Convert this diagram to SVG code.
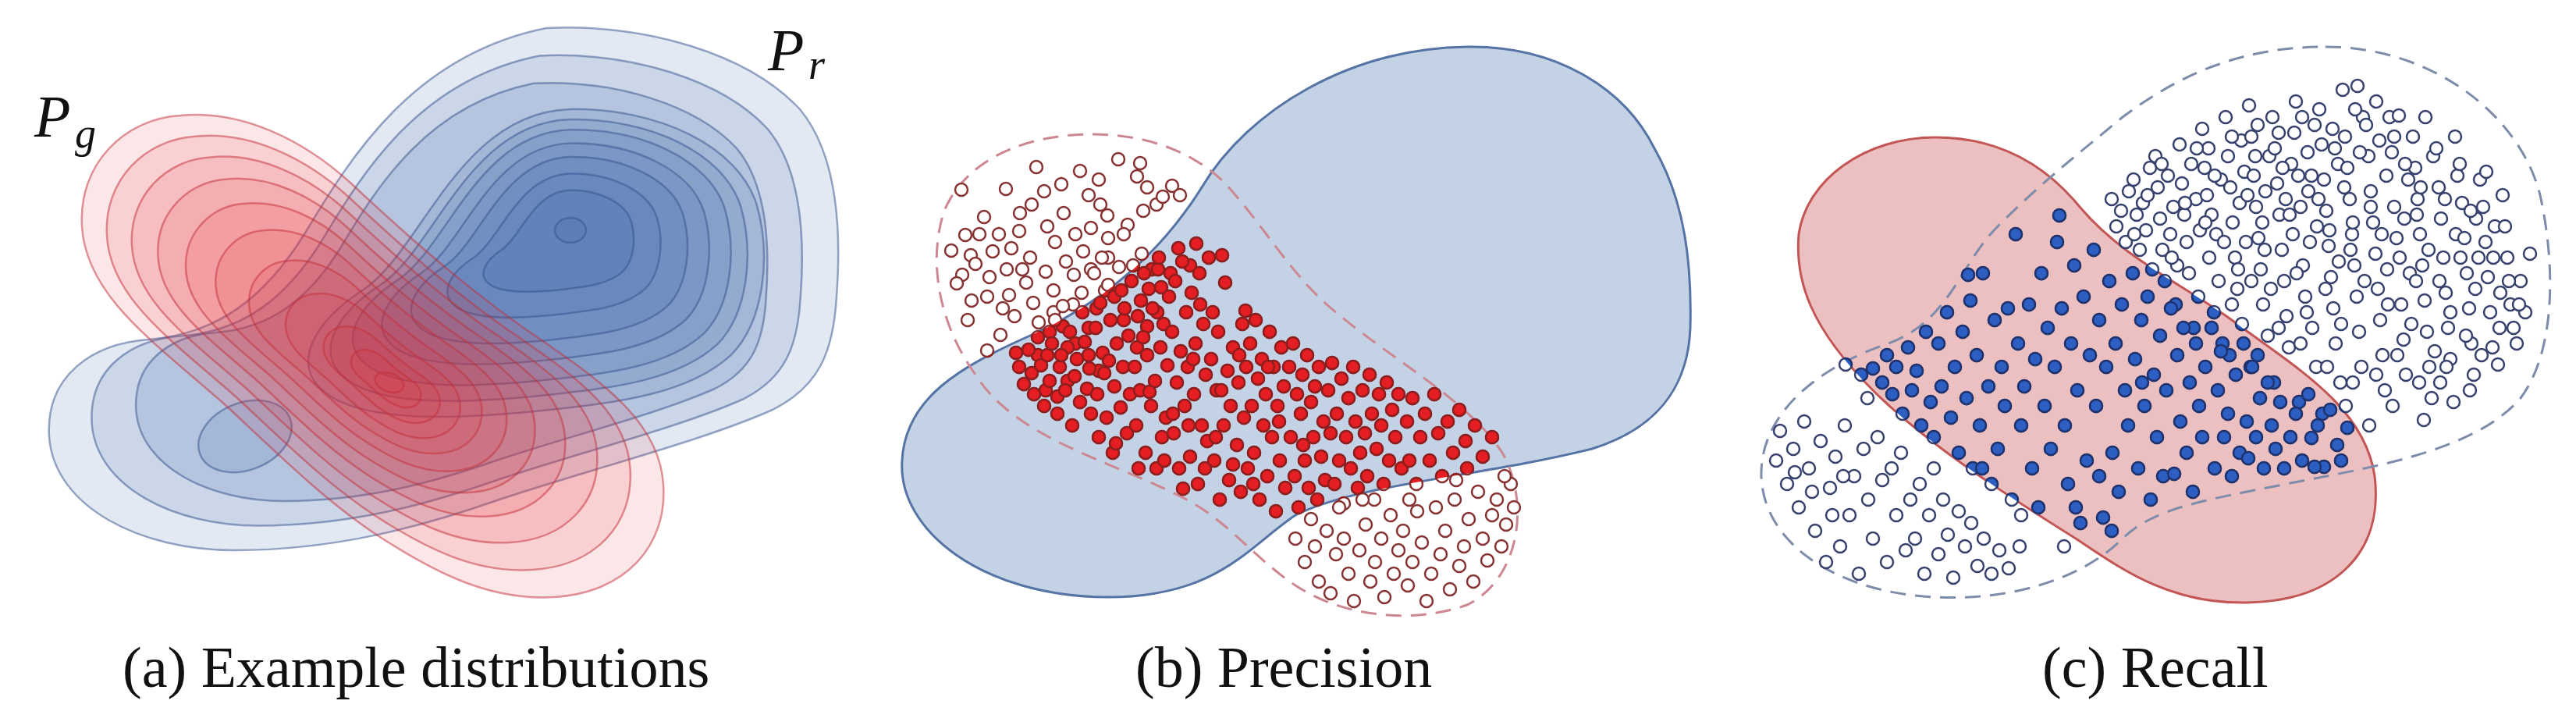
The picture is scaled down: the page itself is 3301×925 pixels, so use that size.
<svg xmlns="http://www.w3.org/2000/svg" xmlns:xlink="http://www.w3.org/1999/xlink" width="3301" height="925" viewBox="0 0 3301 925">
<style>
.bl{fill:rgb(60,100,170);fill-opacity:.14;stroke:rgb(50,80,140);stroke-opacity:.5;stroke-width:2.5}
.rd{fill:rgb(225,45,55);fill-opacity:.115;stroke:rgb(195,45,55);stroke-opacity:.5;stroke-width:2.5}
.lbl{font-family:"Liberation Serif","Times New Roman",serif;font-style:italic;fill:#111}
.cap{font-family:"Liberation Serif","Times New Roman",serif;font-size:74px;fill:#111}
.blobB{fill:rgb(196,210,229);stroke:rgb(85,115,165);stroke-width:3}
.blobC{fill:rgb(236,192,192);stroke:rgb(195,85,85);stroke-width:3}
.dashR{fill:none;stroke:rgb(205,135,145);stroke-width:3;stroke-dasharray:20 12}
.dashB{fill:none;stroke:rgb(125,140,170);stroke-width:3;stroke-dasharray:20 12}
.hollowR{fill:#fff;stroke:rgb(135,50,50);stroke-width:2.5}
.fillR{fill:rgb(228,30,35);stroke:rgb(140,30,30);stroke-width:2.5}
.hollowB{fill:#fff;stroke:rgb(55,65,110);stroke-width:2.5}
.fillB{fill:rgb(45,95,195);stroke:rgb(30,50,110);stroke-width:2.5}
</style>
<defs>
<path id="redOut" vector-effect="non-scaling-stroke" d="M231,148 C310,140 390,180 450,235 C530,310 610,380 700,440 C780,495 845,545 850,620 C856,700 800,760 710,765 C630,770 560,735 490,690 C420,645 360,585 290,520 C200,440 110,380 105,290 C100,210 160,152 231,148 Z"/>
<path id="blueOut" vector-effect="non-scaling-stroke" d="M700,36 C830,30 960,70 1025,140 C1075,200 1078,300 1072,380 C1068,450 1050,495 990,525 C900,565 760,600 640,640 C540,675 430,705 300,705 C180,705 70,650 63,560 C58,480 120,440 190,435 C280,428 340,380 390,300 C450,200 530,70 700,36 Z"/>
<path id="bb" vector-effect="non-scaling-stroke" d="M730,130 C850,128 960,180 985,260 C1005,330 995,420 950,465 C890,520 790,530 700,540 C590,552 450,560 395,515 C350,478 380,420 450,375 C530,320 580,135 730,130 Z"/>
<path id="blobBp" d="M1880,60 C1990,58 2080,110 2120,190 C2160,260 2168,340 2166,420 C2163,500 2120,550 2040,575 C1900,610 1740,620 1660,660 C1600,700 1560,765 1420,765 C1260,765 1150,680 1156,590 C1160,510 1230,470 1320,430 C1420,385 1490,320 1540,240 C1600,140 1730,62 1880,60 Z"/>
<path id="blobCp" d="M2480,176 C2560,176 2620,210 2665,265 C2720,330 2790,360 2860,410 C2940,470 3030,520 3043,610 C3055,710 2990,770 2880,772 C2780,774 2720,730 2660,690 C2580,640 2470,570 2400,500 C2320,420 2300,360 2305,300 C2315,230 2390,176 2480,176 Z"/>
<clipPath id="clipB"><use href="#blobBp"/></clipPath>
<clipPath id="clipC"><use href="#blobCp"/></clipPath>
<g id="cloudB">
<circle cx="1433" cy="204" r="8"/><circle cx="1461" cy="209" r="8"/><circle cx="1328" cy="214" r="8"/><circle cx="1384" cy="219" r="8"/><circle cx="1289" cy="242" r="8"/><circle cx="1338" cy="245" r="8"/><circle cx="1360" cy="236" r="8"/><circle cx="1261" cy="278" r="8"/><circle cx="1307" cy="273" r="8"/><circle cx="1363" cy="273" r="8"/><circle cx="1419" cy="276" r="8"/><circle cx="1482" cy="262" r="8"/><circle cx="1237" cy="301" r="8"/><circle cx="1219" cy="321" r="8"/><circle cx="1244" cy="327" r="8"/><circle cx="1272" cy="322" r="8"/><circle cx="1296" cy="318" r="8"/><circle cx="1320" cy="330" r="8"/><circle cx="1352" cy="310" r="8"/><circle cx="1378" cy="300" r="8"/><circle cx="1398" cy="292" r="8"/><circle cx="1420" cy="305" r="8"/><circle cx="1445" cy="288" r="8"/><circle cx="1465" cy="270" r="8"/><circle cx="1233" cy="352" r="8"/><circle cx="1268" cy="355" r="8"/><circle cx="1290" cy="345" r="8"/><circle cx="1315" cy="362" r="8"/><circle cx="1340" cy="348" r="8"/><circle cx="1366" cy="335" r="8"/><circle cx="1388" cy="322" r="8"/><circle cx="1265" cy="380" r="8"/><circle cx="1293" cy="378" r="8"/><circle cx="1324" cy="388" r="8"/><circle cx="1350" cy="372" r="8"/><circle cx="1376" cy="352" r="8"/><circle cx="1331" cy="413" r="8"/><circle cx="1300" cy="405" r="8"/><circle cx="1282" cy="429" r="8"/><circle cx="1265" cy="449" r="8"/><circle cx="1240" cy="410" r="8"/><circle cx="1255" cy="300" r="8"/><circle cx="1232" cy="243" r="8"/><circle cx="1395" cy="250" r="8"/><circle cx="1410" cy="262" r="8"/><circle cx="1342" cy="290" r="8"/><circle cx="1280" cy="300" r="8"/><circle cx="1306" cy="296" r="8"/><circle cx="1470" cy="240" r="8"/><circle cx="1490" cy="252" r="8"/><circle cx="1502" cy="238" r="8"/><circle cx="1375" cy="390" r="8"/><circle cx="1350" cy="400" r="8"/><circle cx="1398" cy="345" r="8"/><circle cx="1420" cy="330" r="8"/><circle cx="1440" cy="300" r="8"/><circle cx="1310" cy="345" r="8"/><circle cx="1250" cy="338" r="8"/><circle cx="1285" cy="395" r="8"/><circle cx="1245" cy="385" r="8"/><circle cx="1226" cy="363" r="8"/><circle cx="1408" cy="230" r="8"/><circle cx="1322" cy="262" r="8"/><circle cx="1457" cy="226" r="8"/><circle cx="1512" cy="250" r="8"/>
<circle cx="1345" cy="425" r="8"/><circle cx="1362" cy="418" r="8"/><circle cx="1378" cy="440" r="8"/><circle cx="1395" cy="420" r="8"/><circle cx="1405" cy="395" r="8"/><circle cx="1416" cy="372" r="8"/><circle cx="1428" cy="380" r="8"/><circle cx="1440" cy="410" r="8"/><circle cx="1450" cy="360" r="8"/><circle cx="1462" cy="385" r="8"/><circle cx="1476" cy="345" r="8"/><circle cx="1488" cy="368" r="8"/><circle cx="1500" cy="350" r="8"/><circle cx="1510" cy="318" r="8"/><circle cx="1525" cy="340" r="8"/><circle cx="1533" cy="312" r="8"/><circle cx="1457" cy="445" r="8"/><circle cx="1470" cy="418" r="8"/><circle cx="1483" cy="400" r="8"/><circle cx="1395" cy="455" r="8"/><circle cx="1408" cy="475" r="8"/><circle cx="1355" cy="508" r="8"/><circle cx="1368" cy="488" r="8"/><circle cx="1330" cy="455" r="8"/><circle cx="1340" cy="500" r="8"/>
<circle cx="1306" cy="470" r="8"/><circle cx="1312" cy="492" r="8"/><circle cx="1318" cy="448" r="8"/><circle cx="1325" cy="505" r="8"/><circle cx="1330" cy="432" r="8"/><circle cx="1334" cy="468" r="8"/><circle cx="1338" cy="520" r="8"/><circle cx="1342" cy="455" r="8"/><circle cx="1345" cy="488" r="8"/><circle cx="1322" cy="478" r="8"/><circle cx="1348" cy="440" r="8"/><circle cx="1302" cy="452" r="8"/>
<circle cx="1352" cy="410" r="8"/><circle cx="1355" cy="530" r="8"/><circle cx="1358" cy="470" r="8"/><circle cx="1362" cy="392" r="8"/><circle cx="1365" cy="500" r="8"/><circle cx="1368" cy="445" r="8"/><circle cx="1371" cy="425" r="8"/><circle cx="1374" cy="545" r="8"/><circle cx="1377" cy="482" r="8"/><circle cx="1380" cy="460" r="8"/><circle cx="1384" cy="515" r="8"/><circle cx="1387" cy="400" r="8"/><circle cx="1390" cy="438" r="8"/><circle cx="1393" cy="498" r="8"/><circle cx="1396" cy="472" r="8"/><circle cx="1398" cy="530" r="8"/><circle cx="1360" cy="455" r="8"/><circle cx="1386" cy="375" r="8"/>
<circle cx="1402" cy="350" r="8"/><circle cx="1404" cy="420" r="8"/><circle cx="1406" cy="505" r="8"/><circle cx="1408" cy="560" r="8"/><circle cx="1410" cy="388" r="8"/><circle cx="1413" cy="452" r="8"/><circle cx="1415" cy="478" r="8"/><circle cx="1418" cy="535" r="8"/><circle cx="1420" cy="365" r="8"/><circle cx="1423" cy="410" r="8"/><circle cx="1426" cy="580" r="8"/><circle cx="1428" cy="495" r="8"/><circle cx="1431" cy="440" r="8"/><circle cx="1434" cy="342" r="8"/><circle cx="1436" cy="522" r="8"/><circle cx="1439" cy="470" r="8"/><circle cx="1441" cy="395" r="8"/><circle cx="1444" cy="555" r="8"/><circle cx="1446" cy="430" r="8"/><circle cx="1448" cy="505" r="8"/><circle cx="1412" cy="330" r="8"/><circle cx="1430" cy="568" r="8"/><circle cx="1437" cy="372" r="8"/><circle cx="1421" cy="462" r="8"/>
<circle cx="1452" cy="340" r="8"/><circle cx="1454" cy="470" r="8"/><circle cx="1456" cy="545" r="8"/><circle cx="1458" cy="405" r="8"/><circle cx="1461" cy="500" r="8"/><circle cx="1463" cy="325" r="8"/><circle cx="1465" cy="432" r="8"/><circle cx="1468" cy="580" r="8"/><circle cx="1470" cy="455" r="8"/><circle cx="1472" cy="370" r="8"/><circle cx="1475" cy="520" r="8"/><circle cx="1477" cy="395" r="8"/><circle cx="1480" cy="488" r="8"/><circle cx="1482" cy="600" r="8"/><circle cx="1484" cy="345" r="8"/><circle cx="1487" cy="445" r="8"/><circle cx="1489" cy="560" r="8"/><circle cx="1491" cy="415" r="8"/><circle cx="1494" cy="535" r="8"/><circle cx="1496" cy="468" r="8"/><circle cx="1498" cy="380" r="8"/><circle cx="1459" cy="600" r="8"/><circle cx="1473" cy="502" r="8"/><circle cx="1485" cy="330" r="8"/><circle cx="1492" cy="590" r="8"/><circle cx="1466" cy="350" r="8"/>
<circle cx="1502" cy="425" r="8"/><circle cx="1504" cy="555" r="8"/><circle cx="1506" cy="360" r="8"/><circle cx="1508" cy="490" r="8"/><circle cx="1511" cy="600" r="8"/><circle cx="1513" cy="450" r="8"/><circle cx="1515" cy="335" r="8"/><circle cx="1518" cy="520" r="8"/><circle cx="1520" cy="400" r="8"/><circle cx="1522" cy="470" r="8"/><circle cx="1525" cy="585" r="8"/><circle cx="1527" cy="375" r="8"/><circle cx="1530" cy="505" r="8"/><circle cx="1532" cy="440" r="8"/><circle cx="1535" cy="620" r="8"/><circle cx="1537" cy="350" r="8"/><circle cx="1540" cy="545" r="8"/><circle cx="1542" cy="415" r="8"/><circle cx="1545" cy="480" r="8"/><circle cx="1547" cy="565" r="8"/><circle cx="1549" cy="330" r="8"/><circle cx="1516" cy="626" r="8"/><circle cx="1529" cy="460" r="8"/><circle cx="1538" cy="390" r="8"/><circle cx="1544" cy="600" r="8"/><circle cx="1503" cy="530" r="8"/><circle cx="1523" cy="545" r="8"/>
<circle cx="1552" cy="460" r="8"/><circle cx="1554" cy="400" r="8"/><circle cx="1556" cy="590" r="8"/><circle cx="1559" cy="500" r="8"/><circle cx="1561" cy="425" r="8"/><circle cx="1563" cy="640" r="8"/><circle cx="1566" cy="327" r="8"/><circle cx="1570" cy="362" r="8"/><circle cx="1568" cy="545" r="8"/><circle cx="1573" cy="475" r="8"/><circle cx="1575" cy="615" r="8"/><circle cx="1577" cy="520" r="8"/><circle cx="1580" cy="445" r="8"/><circle cx="1585" cy="570" r="8"/><circle cx="1587" cy="490" r="8"/><circle cx="1590" cy="630" r="8"/><circle cx="1592" cy="415" r="8"/><circle cx="1594" cy="535" r="8"/><circle cx="1597" cy="470" r="8"/><circle cx="1599" cy="600" r="8"/><circle cx="1558" cy="560" r="8"/><circle cx="1588" cy="455" r="8"/><circle cx="1565" cy="500" r="8"/><circle cx="1580" cy="595" r="8"/><circle cx="1596" cy="398" r="8"/>
<circle cx="1602" cy="440" r="8"/><circle cx="1604" cy="520" r="8"/><circle cx="1607" cy="580" r="8"/><circle cx="1609" cy="410" r="8"/><circle cx="1612" cy="485" r="8"/><circle cx="1614" cy="640" r="8"/><circle cx="1617" cy="460" r="8"/><circle cx="1619" cy="545" r="8"/><circle cx="1622" cy="505" r="8"/><circle cx="1624" cy="610" r="8"/><circle cx="1627" cy="425" r="8"/><circle cx="1630" cy="560" r="8"/><circle cx="1632" cy="470" r="8"/><circle cx="1635" cy="655" r="8"/><circle cx="1637" cy="520" r="8"/><circle cx="1640" cy="590" r="8"/><circle cx="1642" cy="445" r="8"/><circle cx="1645" cy="495" r="8"/><circle cx="1647" cy="625" r="8"/><circle cx="1606" cy="620" r="8"/><circle cx="1625" cy="470" r="8"/><circle cx="1639" cy="540" r="8"/>
<circle cx="1652" cy="470" r="8"/><circle cx="1654" cy="560" r="8"/><circle cx="1657" cy="440" r="8"/><circle cx="1659" cy="610" r="8"/><circle cx="1662" cy="505" r="8"/><circle cx="1664" cy="650" r="8"/><circle cx="1667" cy="530" r="8"/><circle cx="1669" cy="480" r="8"/><circle cx="1672" cy="590" r="8"/><circle cx="1675" cy="455" r="8"/><circle cx="1677" cy="625" r="8"/><circle cx="1680" cy="515" r="8"/><circle cx="1683" cy="560" r="8"/><circle cx="1685" cy="495" r="8"/><circle cx="1688" cy="640" r="8"/><circle cx="1690" cy="470" r="8"/><circle cx="1693" cy="585" r="8"/><circle cx="1696" cy="540" r="8"/><circle cx="1698" cy="615" r="8"/><circle cx="1670" cy="570" r="8"/>
<circle cx="1702" cy="500" r="8"/><circle cx="1705" cy="555" r="8"/><circle cx="1707" cy="465" r="8"/><circle cx="1710" cy="620" r="8"/><circle cx="1713" cy="530" r="8"/><circle cx="1716" cy="590" r="8"/><circle cx="1719" cy="485" r="8"/><circle cx="1722" cy="645" r="8"/><circle cx="1725" cy="560" r="8"/><circle cx="1728" cy="510" r="8"/><circle cx="1731" cy="600" r="8"/><circle cx="1734" cy="470" r="8"/><circle cx="1737" cy="540" r="8"/><circle cx="1740" cy="625" r="8"/><circle cx="1743" cy="580" r="8"/><circle cx="1746" cy="500" r="8"/><circle cx="1749" cy="555" r="8"/>
<circle cx="1752" cy="610" r="8"/><circle cx="1755" cy="480" r="8"/><circle cx="1758" cy="530" r="8"/><circle cx="1761" cy="640" r="8"/><circle cx="1764" cy="575" r="8"/><circle cx="1767" cy="505" r="8"/><circle cx="1770" cy="545" r="8"/><circle cx="1773" cy="620" r="8"/><circle cx="1777" cy="490" r="8"/><circle cx="1780" cy="590" r="8"/><circle cx="1784" cy="525" r="8"/><circle cx="1788" cy="560" r="8"/><circle cx="1792" cy="505" r="8"/><circle cx="1796" cy="600" r="8"/>
<circle cx="1803" cy="540" r="8"/><circle cx="1806" cy="590" r="8"/><circle cx="1810" cy="510" r="8"/><circle cx="1815" cy="620" r="8"/><circle cx="1820" cy="560" r="8"/><circle cx="1826" cy="530" r="8"/><circle cx="1832" cy="590" r="8"/><circle cx="1838" cy="505" r="8"/><circle cx="1843" cy="555" r="8"/><circle cx="1848" cy="610" r="8"/>
<circle cx="1855" cy="540" r="8"/><circle cx="1862" cy="580" r="8"/><circle cx="1870" cy="525" r="8"/><circle cx="1878" cy="565" r="8"/><circle cx="1890" cy="545" r="8"/><circle cx="1900" cy="585" r="8"/><circle cx="1912" cy="560" r="8"/><circle cx="1880" cy="600" r="8"/>
<circle cx="1660" cy="690" r="8"/><circle cx="1672" cy="720" r="8"/><circle cx="1685" cy="700" r="8"/><circle cx="1690" cy="745" r="8"/><circle cx="1700" cy="680" r="8"/><circle cx="1705" cy="760" r="8"/><circle cx="1712" cy="710" r="8"/><circle cx="1722" cy="690" r="8"/><circle cx="1728" cy="735" r="8"/><circle cx="1735" cy="770" r="8"/><circle cx="1742" cy="705" r="8"/><circle cx="1750" cy="672" r="8"/><circle cx="1756" cy="745" r="8"/><circle cx="1762" cy="720" r="8"/><circle cx="1770" cy="690" r="8"/><circle cx="1774" cy="765" r="8"/><circle cx="1782" cy="660" r="8"/><circle cx="1786" cy="735" r="8"/><circle cx="1792" cy="705" r="8"/><circle cx="1798" cy="680" r="8"/><circle cx="1804" cy="750" r="8"/><circle cx="1810" cy="720" r="8"/><circle cx="1816" cy="655" r="8"/><circle cx="1822" cy="695" r="8"/><circle cx="1828" cy="770" r="8"/><circle cx="1834" cy="735" r="8"/><circle cx="1840" cy="650" r="8"/><circle cx="1846" cy="710" r="8"/><circle cx="1852" cy="680" r="8"/><circle cx="1858" cy="755" r="8"/><circle cx="1864" cy="640" r="8"/><circle cx="1870" cy="725" r="8"/><circle cx="1876" cy="700" r="8"/><circle cx="1882" cy="665" r="8"/><circle cx="1888" cy="745" r="8"/><circle cx="1894" cy="630" r="8"/><circle cx="1900" cy="690" r="8"/><circle cx="1906" cy="718" r="8"/><circle cx="1912" cy="660" r="8"/><circle cx="1918" cy="640" r="8"/><circle cx="1924" cy="700" r="8"/><circle cx="1930" cy="672" r="8"/><circle cx="1936" cy="620" r="8"/><circle cx="1940" cy="650" r="8"/><circle cx="1716" cy="650" r="8"/><circle cx="1746" cy="640" r="8"/><circle cx="1806" cy="640" r="8"/><circle cx="1866" cy="615" r="8"/><circle cx="1928" cy="610" r="8"/><circle cx="1680" cy="665" r="8"/>
</g>
<g id="cloudC">
<circle cx="2706" cy="255" r="8"/><circle cx="2712" cy="290" r="8"/><circle cx="2718" cy="270" r="8"/><circle cx="2724" cy="310" r="8"/><circle cx="2728" cy="245" r="8"/>
<circle cx="2734" cy="230" r="8"/><circle cx="2738" cy="275" r="8"/><circle cx="2742" cy="320" r="8"/><circle cx="2746" cy="260" r="8"/><circle cx="2750" cy="295" r="8"/><circle cx="2755" cy="215" r="8"/><circle cx="2758" cy="345" r="8"/>
<circle cx="2762" cy="200" r="8"/><circle cx="2765" cy="240" r="8"/><circle cx="2768" cy="280" r="8"/><circle cx="2771" cy="320" r="8"/><circle cx="2774" cy="360" r="8"/><circle cx="2778" cy="225" r="8"/><circle cx="2781" cy="300" r="8"/><circle cx="2785" cy="265" r="8"/><circle cx="2788" cy="390" r="8"/><circle cx="2790" cy="340" r="8"/>
<circle cx="2793" cy="185" r="8"/><circle cx="2796" cy="235" r="8"/><circle cx="2799" cy="275" r="8"/><circle cx="2802" cy="310" r="8"/><circle cx="2805" cy="350" r="8"/><circle cx="2808" cy="210" r="8"/><circle cx="2811" cy="420" r="8"/><circle cx="2814" cy="255" r="8"/><circle cx="2817" cy="380" r="8"/><circle cx="2819" cy="295" r="8"/>
<circle cx="2822" cy="165" r="8"/><circle cx="2825" cy="215" r="8"/><circle cx="2828" cy="250" r="8"/><circle cx="2831" cy="330" r="8"/><circle cx="2834" cy="275" r="8"/><circle cx="2837" cy="400" r="8"/><circle cx="2840" cy="300" r="8"/><circle cx="2843" cy="360" r="8"/><circle cx="2846" cy="230" r="8"/><circle cx="2848" cy="440" r="8"/><circle cx="2830" cy="190" r="8"/>
<circle cx="2852" cy="150" r="8"/><circle cx="2855" cy="200" r="8"/><circle cx="2858" cy="240" r="8"/><circle cx="2861" cy="285" r="8"/><circle cx="2864" cy="330" r="8"/><circle cx="2867" cy="370" r="8"/><circle cx="2870" cy="260" r="8"/><circle cx="2873" cy="415" r="8"/><circle cx="2876" cy="220" r="8"/><circle cx="2878" cy="310" r="8"/><circle cx="2857" cy="455" r="8"/><circle cx="2872" cy="180" r="8"/>
<circle cx="2882" cy="135" r="8"/><circle cx="2885" cy="175" r="8"/><circle cx="2888" cy="225" r="8"/><circle cx="2891" cy="265" r="8"/><circle cx="2894" cy="305" r="8"/><circle cx="2897" cy="345" r="8"/><circle cx="2900" cy="390" r="8"/><circle cx="2903" cy="245" r="8"/><circle cx="2906" cy="430" r="8"/><circle cx="2908" cy="200" r="8"/><circle cx="2884" cy="470" r="8"/><circle cx="2899" cy="285" r="8"/><circle cx="2893" cy="160" r="8"/>
<circle cx="2912" cy="150" r="8"/><circle cx="2915" cy="190" r="8"/><circle cx="2918" cy="235" r="8"/><circle cx="2921" cy="275" r="8"/><circle cx="2924" cy="320" r="8"/><circle cx="2927" cy="360" r="8"/><circle cx="2930" cy="405" r="8"/><circle cx="2933" cy="445" r="8"/><circle cx="2936" cy="210" r="8"/><circle cx="2938" cy="300" r="8"/><circle cx="2914" cy="490" r="8"/><circle cx="2929" cy="255" r="8"/><circle cx="2940" cy="170" r="8"/>
<circle cx="2942" cy="130" r="8"/><circle cx="2945" cy="225" r="8"/><circle cx="2948" cy="265" r="8"/><circle cx="2951" cy="340" r="8"/><circle cx="2954" cy="380" r="8"/><circle cx="2957" cy="195" r="8"/><circle cx="2960" cy="310" r="8"/><circle cx="2963" cy="420" r="8"/><circle cx="2966" cy="160" r="8"/><circle cx="2968" cy="470" r="8"/><circle cx="2946" cy="515" r="8"/><circle cx="2958" cy="245" r="8"/><circle cx="2969" cy="290" r="8"/>
<circle cx="2972" cy="140" r="8"/><circle cx="2975" cy="185" r="8"/><circle cx="2978" cy="230" r="8"/><circle cx="2981" cy="270" r="8"/><circle cx="2984" cy="315" r="8"/><circle cx="2987" cy="355" r="8"/><circle cx="2990" cy="395" r="8"/><circle cx="2993" cy="440" r="8"/><circle cx="2996" cy="210" r="8"/><circle cx="2999" cy="490" r="8"/><circle cx="2976" cy="530" r="8"/><circle cx="2989" cy="165" r="8"/><circle cx="2997" cy="335" r="8"/>
<circle cx="3002" cy="115" r="8"/><circle cx="3005" cy="175" r="8"/><circle cx="3008" cy="215" r="8"/><circle cx="3011" cy="255" r="8"/><circle cx="3014" cy="300" r="8"/><circle cx="3017" cy="340" r="8"/><circle cx="3020" cy="380" r="8"/><circle cx="3023" cy="425" r="8"/><circle cx="3026" cy="470" r="8"/><circle cx="3028" cy="150" r="8"/><circle cx="3006" cy="520" r="8"/><circle cx="3021" cy="110" r="8"/><circle cx="3015" cy="285" r="8"/>
<circle cx="3032" cy="160" r="8"/><circle cx="3035" cy="200" r="8"/><circle cx="3038" cy="245" r="8"/><circle cx="3041" cy="285" r="8"/><circle cx="3044" cy="325" r="8"/><circle cx="3047" cy="370" r="8"/><circle cx="3050" cy="410" r="8"/><circle cx="3053" cy="455" r="8"/><circle cx="3056" cy="500" r="8"/><circle cx="3058" cy="225" r="8"/><circle cx="3036" cy="545" r="8"/><circle cx="3049" cy="180" r="8"/><circle cx="3059" cy="345" r="8"/>
<circle cx="3062" cy="150" r="8"/><circle cx="3065" cy="195" r="8"/><circle cx="3068" cy="265" r="8"/><circle cx="3071" cy="305" r="8"/><circle cx="3074" cy="148" r="8"/><circle cx="3077" cy="390" r="8"/><circle cx="3080" cy="435" r="8"/><circle cx="3083" cy="480" r="8"/><circle cx="3086" cy="230" r="8"/><circle cx="3088" cy="350" r="8"/><circle cx="3066" cy="520" r="8"/><circle cx="3081" cy="280" r="8"/>
<circle cx="3092" cy="175" r="8"/><circle cx="3095" cy="215" r="8"/><circle cx="3098" cy="255" r="8"/><circle cx="3101" cy="300" r="8"/><circle cx="3104" cy="340" r="8"/><circle cx="3107" cy="385" r="8"/><circle cx="3110" cy="425" r="8"/><circle cx="3113" cy="470" r="8"/><circle cx="3116" cy="510" r="8"/><circle cx="3118" cy="200" r="8"/><circle cx="3106" cy="538" r="8"/><circle cx="3097" cy="275" r="8"/>
<circle cx="3122" cy="190" r="8"/><circle cx="3125" cy="240" r="8"/><circle cx="3128" cy="280" r="8"/><circle cx="3131" cy="330" r="8"/><circle cx="3134" cy="375" r="8"/><circle cx="3137" cy="420" r="8"/><circle cx="3140" cy="460" r="8"/><circle cx="3144" cy="515" r="8"/><circle cx="3147" cy="300" r="8"/><circle cx="3149" cy="225" r="8"/><circle cx="3127" cy="490" r="8"/>
<circle cx="3152" cy="210" r="8"/><circle cx="3155" cy="260" r="8"/><circle cx="3158" cy="305" r="8"/><circle cx="3161" cy="350" r="8"/><circle cx="3164" cy="395" r="8"/><circle cx="3167" cy="440" r="8"/><circle cx="3170" cy="480" r="8"/><circle cx="3173" cy="280" r="8"/><circle cx="3176" cy="330" r="8"/><circle cx="3178" cy="230" r="8"/>
<circle cx="3182" cy="265" r="8"/><circle cx="3185" cy="310" r="8"/><circle cx="3188" cy="355" r="8"/><circle cx="3191" cy="400" r="8"/><circle cx="3194" cy="445" r="8"/><circle cx="3197" cy="290" r="8"/><circle cx="3201" cy="467" r="8"/><circle cx="3204" cy="375" r="8"/><circle cx="3207" cy="250" r="8"/>
<circle cx="3213" cy="330" r="8"/><circle cx="3217" cy="390" r="8"/><circle cx="3221" cy="420" r="8"/><circle cx="3225" cy="440" r="8"/><circle cx="3230" cy="360" r="8"/><circle cx="3236" cy="400" r="8"/><circle cx="3242" cy="325" r="8"/>
<circle cx="2735" cy="300" r="8"/><circle cx="2752" cy="250" r="8"/><circle cx="2770" cy="210" r="8"/><circle cx="2783" cy="330" r="8"/><circle cx="2800" cy="260" r="8"/><circle cx="2815" cy="190" r="8"/><circle cx="2826" cy="285" r="8"/><circle cx="2838" cy="225" r="8"/><circle cx="2850" cy="310" r="8"/><circle cx="2860" cy="175" r="8"/><circle cx="2868" cy="345" r="8"/><circle cx="2880" cy="250" r="8"/><circle cx="2890" cy="200" r="8"/><circle cx="2902" cy="320" r="8"/><circle cx="2910" cy="370" r="8"/><circle cx="2920" cy="170" r="8"/><circle cx="2925" cy="215" r="8"/><circle cx="2934" cy="275" r="8"/><circle cx="2943" cy="350" r="8"/><circle cx="2950" cy="150" r="8"/><circle cx="2956" cy="400" r="8"/><circle cx="2962" cy="225" r="8"/><circle cx="2971" cy="255" r="8"/><circle cx="2980" cy="370" r="8"/><circle cx="2985" cy="295" r="8"/><circle cx="2992" cy="190" r="8"/><circle cx="3000" cy="415" r="8"/><circle cx="3004" cy="240" r="8"/><circle cx="3012" cy="320" r="8"/><circle cx="3018" cy="140" r="8"/><circle cx="3024" cy="195" r="8"/><circle cx="3030" cy="360" r="8"/><circle cx="3038" cy="265" r="8"/><circle cx="3045" cy="130" r="8"/><circle cx="3052" cy="300" r="8"/><circle cx="3060" cy="390" r="8"/><circle cx="3068" cy="175" r="8"/><circle cx="3075" cy="330" r="8"/><circle cx="3082" cy="210" r="8"/><circle cx="3090" cy="415" r="8"/><circle cx="3096" cy="360" r="8"/><circle cx="3102" cy="240" r="8"/><circle cx="3108" cy="150" r="8"/><circle cx="3112" cy="320" r="8"/><circle cx="3120" cy="450" r="8"/><circle cx="3126" cy="360" r="8"/><circle cx="3133" cy="255" r="8"/><circle cx="3140" cy="400" r="8"/><circle cx="3146" cy="175" r="8"/><circle cx="3153" cy="330" r="8"/><circle cx="3160" cy="430" r="8"/><circle cx="3166" cy="270" r="8"/><circle cx="3172" cy="370" r="8"/><circle cx="3180" cy="455" r="8"/><circle cx="3186" cy="220" r="8"/><circle cx="3195" cy="330" r="8"/><circle cx="3203" cy="420" r="8"/><circle cx="3210" cy="290" r="8"/><circle cx="3215" cy="360" r="8"/><circle cx="3228" cy="390" r="8"/><circle cx="2893" cy="455" r="8"/><circle cx="2920" cy="420" r="8"/><circle cx="2948" cy="440" r="8"/><circle cx="2982" cy="470" r="8"/><circle cx="3015" cy="490" r="8"/><circle cx="3045" cy="480" r="8"/><circle cx="3072" cy="455" r="8"/><circle cx="3100" cy="490" r="8"/><circle cx="3135" cy="470" r="8"/><circle cx="3165" cy="500" r="8"/><circle cx="2860" cy="390" r="8"/><circle cx="2885" cy="360" r="8"/>
<circle cx="2365" cy="467" r="8"/><circle cx="2393" cy="510" r="8"/><circle cx="2400" cy="472" r="8"/><circle cx="2412" cy="490" r="8"/><circle cx="2385" cy="480" r="8"/><circle cx="2418" cy="455" r="8"/>
<circle cx="2425" cy="505" r="8"/><circle cx="2430" cy="470" r="8"/><circle cx="2438" cy="530" r="8"/><circle cx="2445" cy="445" r="8"/><circle cx="2450" cy="500" r="8"/><circle cx="2456" cy="475" r="8"/><circle cx="2462" cy="545" r="8"/><circle cx="2468" cy="425" r="8"/><circle cx="2474" cy="515" r="8"/><circle cx="2478" cy="560" r="8"/>
<circle cx="2484" cy="440" r="8"/><circle cx="2488" cy="495" r="8"/><circle cx="2522" cy="352" r="8"/><circle cx="2495" cy="400" r="8"/><circle cx="2500" cy="535" r="8"/><circle cx="2505" cy="470" r="8"/><circle cx="2510" cy="580" r="8"/><circle cx="2515" cy="425" r="8"/><circle cx="2520" cy="510" r="8"/><circle cx="2525" cy="385" r="8"/><circle cx="2528" cy="600" r="8"/>
<circle cx="2533" cy="455" r="8"/><circle cx="2537" cy="545" r="8"/><circle cx="2541" cy="350" r="8"/><circle cx="2548" cy="495" r="8"/><circle cx="2552" cy="620" r="8"/><circle cx="2556" cy="410" r="8"/><circle cx="2560" cy="575" r="8"/><circle cx="2565" cy="470" r="8"/><circle cx="2569" cy="520" r="8"/><circle cx="2573" cy="395" r="8"/><circle cx="2578" cy="640" r="8"/><circle cx="2540" cy="600" r="8"/>
<circle cx="2583" cy="300" r="8"/><circle cx="2586" cy="440" r="8"/><circle cx="2590" cy="545" r="8"/><circle cx="2594" cy="495" r="8"/><circle cx="2600" cy="390" r="8"/><circle cx="2604" cy="600" r="8"/><circle cx="2608" cy="460" r="8"/><circle cx="2612" cy="650" r="8"/><circle cx="2616" cy="350" r="8"/><circle cx="2620" cy="520" r="8"/><circle cx="2624" cy="420" r="8"/><circle cx="2628" cy="575" r="8"/><circle cx="2590" cy="660" r="8"/>
<circle cx="2633" cy="470" r="8"/><circle cx="2636" cy="310" r="8"/><circle cx="2639" cy="276" r="8"/><circle cx="2642" cy="395" r="8"/><circle cx="2646" cy="545" r="8"/><circle cx="2650" cy="620" r="8"/><circle cx="2654" cy="440" r="8"/><circle cx="2658" cy="340" r="8"/><circle cx="2662" cy="500" r="8"/><circle cx="2666" cy="670" r="8"/><circle cx="2670" cy="380" r="8"/><circle cx="2674" cy="590" r="8"/><circle cx="2678" cy="455" r="8"/><circle cx="2645" cy="700" r="8"/><circle cx="2660" cy="650" r="8"/>
<circle cx="2683" cy="320" r="8"/><circle cx="2686" cy="520" r="8"/><circle cx="2690" cy="410" r="8"/><circle cx="2695" cy="663" r="8"/><circle cx="2699" cy="470" r="8"/><circle cx="2703" cy="360" r="8"/><circle cx="2707" cy="580" r="8"/><circle cx="2711" cy="440" r="8"/><circle cx="2715" cy="630" r="8"/><circle cx="2719" cy="390" r="8"/><circle cx="2723" cy="500" r="8"/><circle cx="2727" cy="545" r="8"/><circle cx="2706" cy="680" r="8"/><circle cx="2690" cy="610" r="8"/>
<circle cx="2733" cy="350" r="8"/><circle cx="2736" cy="460" r="8"/><circle cx="2740" cy="600" r="8"/><circle cx="2744" cy="410" r="8"/><circle cx="2748" cy="520" r="8"/><circle cx="2752" cy="380" r="8"/><circle cx="2756" cy="640" r="8"/><circle cx="2760" cy="480" r="8"/><circle cx="2764" cy="560" r="8"/><circle cx="2768" cy="430" r="8"/><circle cx="2772" cy="610" r="8"/><circle cx="2776" cy="500" r="8"/><circle cx="2745" cy="490" r="8"/>
<circle cx="2782" cy="395" r="8"/><circle cx="2786" cy="607" r="8"/><circle cx="2790" cy="455" r="8"/><circle cx="2794" cy="540" r="8"/><circle cx="2798" cy="420" r="8"/><circle cx="2802" cy="580" r="8"/><circle cx="2806" cy="490" r="8"/><circle cx="2810" cy="630" r="8"/><circle cx="2814" cy="440" r="8"/><circle cx="2818" cy="520" r="8"/><circle cx="2822" cy="560" r="8"/><circle cx="2826" cy="470" r="8"/>
<circle cx="2834" cy="420" r="8"/><circle cx="2838" cy="600" r="8"/><circle cx="2842" cy="500" r="8"/><circle cx="2846" cy="450" r="8"/><circle cx="2850" cy="560" r="8"/><circle cx="2855" cy="530" r="8"/><circle cx="2860" cy="610" r="8"/><circle cx="2865" cy="480" r="8"/><circle cx="2870" cy="580" r="8"/><circle cx="2875" cy="440" r="8"/><circle cx="2879" cy="540" r="8"/>
<circle cx="2881" cy="587" r="8"/><circle cx="2886" cy="470" r="8"/><circle cx="2891" cy="560" r="8"/><circle cx="2896" cy="510" r="8"/><circle cx="2901" cy="600" r="8"/><circle cx="2906" cy="490" r="8"/><circle cx="2911" cy="545" r="8"/><circle cx="2916" cy="575" r="8"/><circle cx="2922" cy="515" r="8"/><circle cx="2927" cy="600" r="8"/>
<circle cx="2935" cy="560" r="8"/><circle cx="2942" cy="530" r="8"/><circle cx="2950" cy="590" r="8"/><circle cx="2958" cy="505" r="8"/><circle cx="2962" cy="561" r="8"/><circle cx="2970" cy="545" r="8"/><circle cx="2978" cy="598" r="8"/><circle cx="2986" cy="525" r="8"/><circle cx="2995" cy="570" r="8"/><circle cx="3008" cy="548" r="8"/><circle cx="3000" cy="590" r="8"/><circle cx="2966" cy="598" r="8"/>
<circle cx="2276" cy="590" r="8"/><circle cx="2281" cy="552" r="8"/><circle cx="2290" cy="620" r="8"/><circle cx="2298" cy="575" r="8"/><circle cx="2305" cy="650" r="8"/><circle cx="2312" cy="540" r="8"/><circle cx="2318" cy="600" r="8"/><circle cx="2326" cy="680" r="8"/><circle cx="2333" cy="565" r="8"/><circle cx="2340" cy="720" r="8"/><circle cx="2345" cy="625" r="8"/><circle cx="2352" cy="585" r="8"/><circle cx="2358" cy="700" r="8"/><circle cx="2364" cy="545" r="8"/><circle cx="2370" cy="660" r="8"/><circle cx="2376" cy="610" r="8"/><circle cx="2382" cy="735" r="8"/><circle cx="2388" cy="575" r="8"/><circle cx="2394" cy="640" r="8"/><circle cx="2400" cy="690" r="8"/><circle cx="2406" cy="560" r="8"/><circle cx="2412" cy="615" r="8"/><circle cx="2418" cy="720" r="8"/><circle cx="2424" cy="600" r="8"/><circle cx="2430" cy="660" r="8"/><circle cx="2436" cy="580" r="8"/><circle cx="2442" cy="705" r="8"/><circle cx="2448" cy="640" r="8"/><circle cx="2454" cy="690" r="8"/><circle cx="2460" cy="620" r="8"/><circle cx="2466" cy="735" r="8"/><circle cx="2472" cy="660" r="8"/><circle cx="2478" cy="600" r="8"/><circle cx="2484" cy="710" r="8"/><circle cx="2490" cy="640" r="8"/><circle cx="2496" cy="685" r="8"/><circle cx="2503" cy="740" r="8"/><circle cx="2510" cy="655" r="8"/><circle cx="2518" cy="700" r="8"/><circle cx="2526" cy="670" r="8"/><circle cx="2534" cy="725" r="8"/><circle cx="2542" cy="690" r="8"/><circle cx="2552" cy="735" r="8"/><circle cx="2562" cy="705" r="8"/><circle cx="2574" cy="728" r="8"/><circle cx="2588" cy="700" r="8"/><circle cx="2300" cy="605" r="8"/><circle cx="2322" cy="630" r="8"/><circle cx="2348" cy="660" r="8"/><circle cx="2362" cy="610" r="8"/>
</g>
</defs>
<rect width="3301" height="925" fill="#fff"/>
<g id="panel-a">
<g id="real-distribution" class="bl">
<use href="#blueOut"/>
<use href="#blueOut" transform="matrix(.9,0,0,.9,61,39)"/>
<use href="#blueOut" transform="matrix(.8,0,0,.8,124,78)"/>
<ellipse cx="314" cy="559" rx="62" ry="43" transform="rotate(-22 314 559)"/>
<use href="#bb" transform="matrix(.94,0,0,.94,43.8,17.7)"/>
<use href="#bb" transform="matrix(.86,0,0,.86,102.2,41.3)"/>
<use href="#bb" transform="matrix(.78,0,0,.78,160.6,64.9)"/>
<use href="#bb" transform="matrix(.675,0,0,.675,237.25,95.875)"/>
<use href="#bb" transform="matrix(.57,0,0,.57,313.9,126.85)"/>
<use href="#bb" transform="matrix(.44,0,0,.44,408.8,165.2)"/>
<use href="#bb" transform="matrix(.31,0,0,.31,503.7,203.55)"/>
<ellipse cx="731" cy="295" rx="20" ry="16"/>
</g>
<g id="generated-distribution" class="rd">
<use href="#redOut"/>
<use href="#redOut" transform="matrix(.9,0,0,.9,42.5,41.5)"/>
<use href="#redOut" transform="matrix(.8,0,0,.8,85,83)"/>
<use href="#redOut" transform="matrix(.7,0,0,.7,129,126)"/>
<use href="#redOut" transform="matrix(.6,0,0,.6,175.2,172)"/>
<use href="#redOut" transform="matrix(.5,0,0,.5,224,221)"/>
<use href="#redOut" transform="matrix(.4,0,0,.4,277.2,274.8)"/>
<use href="#redOut" transform="matrix(.3,0,0,.3,334.6,331.8)"/>
<use href="#redOut" transform="matrix(.2,0,0,.2,393.6,388.8)"/>
<use href="#redOut" transform="matrix(.12,0,0,.12,437.36,430.32)"/>
<ellipse cx="499" cy="490" rx="19" ry="12" transform="rotate(20 499 490)"/>
</g>
<g id="label-pg"><text class="lbl" x="44" y="175" font-size="76">P</text><text class="lbl" x="96" y="189" font-size="54">g</text></g>
<g id="label-pr"><text class="lbl" x="984" y="90" font-size="76">P</text><text class="lbl" x="1036" y="101" font-size="54">r</text></g>
<text id="caption-a" class="cap" x="157" y="880">(a) Example distributions</text>
</g>
<g id="panel-b">
<use href="#blobBp" class="blobB"/>
<path class="dashR" d="M1400,172 C1470,172 1530,195 1570,235 C1620,290 1650,345 1700,390 C1780,460 1880,510 1925,580 C1960,640 1950,740 1880,775 C1810,800 1720,790 1660,750 C1600,710 1570,660 1500,630 C1420,590 1300,560 1250,480 C1200,410 1190,330 1210,270 C1240,200 1320,172 1400,172 Z"/>
<use href="#cloudB" class="hollowR"/>
<g clip-path="url(#clipB)"><use href="#cloudB" class="fillR"/></g>
<text id="caption-b" class="cap" x="1455" y="880">(b) Precision</text>
</g>
<g id="panel-c">
<use href="#blobCp" class="blobC"/>
<path class="dashB" d="M2980,60 C3120,60 3230,150 3255,250 C3275,340 3275,450 3230,510 C3170,580 3030,600 2930,620 C2830,640 2760,650 2720,690 C2670,740 2580,770 2480,765 C2360,760 2260,700 2257,610 C2255,530 2330,470 2420,440 C2500,410 2510,340 2560,290 C2620,230 2660,200 2720,150 C2800,90 2880,60 2980,60 Z"/>
<use href="#cloudC" class="hollowB"/>
<g clip-path="url(#clipC)"><use href="#cloudC" class="fillB"/></g>
<text id="caption-c" class="cap" x="2617" y="880">(c) Recall</text>
</g>
</svg>
